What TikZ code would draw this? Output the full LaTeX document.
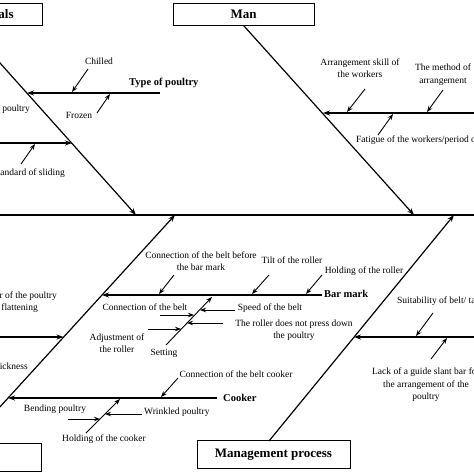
\documentclass[tikz,border=0pt]{standalone}
\usepackage{fontspec}
\setmainfont{Liberation Serif}
\usetikzlibrary{arrows.meta}
\begin{document}
\begin{tikzpicture}[x=1pt,y=-1pt,
  txt/.style={font=\fontsize{9.5}{12.5}\selectfont, inner sep=0pt, align=center},
  btxt/.style={font=\fontsize{10.5}{12}\selectfont\bfseries, inner sep=0pt},
  catbox/.style={draw, line width=0.9pt, inner ysep=0pt, font=\fontsize{13}{15}\selectfont\bfseries},
  spine/.style={line width=1.7pt},
  bone/.style={line width=1.2pt, -{Stealth[length=7pt,width=5pt]}},
  rib/.style={line width=1.1pt, -{Stealth[length=7pt,width=5pt]}},
  tick/.style={line width=0.9pt, -{Stealth[length=6pt,width=4.5pt]}}
]
\useasboundingbox (0,0) rectangle (474,474);

% category boxes
\node[catbox, minimum width=141pt, minimum height=22pt] (man) at (243.5,14) {Man};
\node[catbox, minimum width=153pt, minimum height=27.5pt] (mgmt) at (273.5,454.5) {Management process};
\node[catbox, anchor=north east, minimum height=22pt, text width=60pt, align=right, inner xsep=29pt] (mat) at (43,3) {Materials};
\node[catbox, anchor=north east, minimum height=28pt, text width=60pt, align=right, inner xsep=46pt] (mach) at (42,443) {Machine};

% spine
\coordinate (spL) at (0,215);
\coordinate (spR) at (474,215);
\draw[spine] (spL) -- (spR);

% main bones
\coordinate (matTop) at (-34,25);
\coordinate (matTip) at (136,215);
\coordinate (manTip) at (414,215);
\coordinate (machTop) at (-33,443);
\coordinate (machTip) at (175,215);
\coordinate (mgmtTop) at (269,441);
\coordinate (mgmtTip) at (454,215);
\draw[bone] (matTop) -- (matTip);
\draw[bone] (man.south) -- (manTip);
\draw[bone] (machTop) -- (machTip);
\draw[bone] (mgmtTop) -- (mgmtTip);

% ---------- Materials ----------
\coordinate (tpEnd) at (160,93);
\coordinate (tpTip) at (27,93);
\draw[rib] (tpEnd) -- (tpTip);
\node[btxt, anchor=west] (tp) at (129,83) {Type of poultry};
\node[txt] (chilled) at (99,61) {Chilled};
\coordinate (chA) at (88,69); \coordinate (chB) at (72,92);
\draw[tick] (chA) -- (chB);
\node[txt] (frozen) at (79,115) {Frozen};
\coordinate (frA) at (97,113); \coordinate (frB) at (110,94);
\draw[tick] (frA) -- (frB);

\coordinate (m2End) at (-10,143);
\coordinate (m2Tip) at (72,143);
\draw[rib] (m2End) -- (m2Tip);
\node[txt, anchor=east] (poultry) at (30,109) {poultry};
\node[txt, anchor=east] (sliding) at (65,173) {Standard of sliding};
\coordinate (slA) at (21,164); \coordinate (slB) at (35,144);
\draw[tick] (slA) -- (slB);

% ---------- Man ----------
\coordinate (manRibEnd) at (480,113);
\coordinate (manRibTip) at (323,113);
\draw[rib] (manRibEnd) -- (manRibTip);
\node[txt] (skill) at (360,68) {Arrangement skill of\\the workers};
\coordinate (skA) at (365,89); \coordinate (skB) at (347,112);
\draw[tick] (skA) -- (skB);
\node[txt] (method) at (443,74.5) {The method of\\arrangement};
\coordinate (meA) at (443,90); \coordinate (meB) at (427,112);
\draw[tick] (meA) -- (meB);
\node[txt, anchor=west] (fatigue) at (356,140) {Fatigue of the workers/period of work};
\coordinate (faA) at (378,135); \coordinate (faB) at (393,114);
\draw[tick] (faA) -- (faB);

% ---------- Machine ----------
\coordinate (mc1End) at (-10,337);
\coordinate (mc1Tip) at (63.5,337);
\draw[rib] (mc1End) -- (mc1Tip);
\node[txt, anchor=east] (flat1) at (57,296) {r of the poultry};
\node[txt, anchor=east] (flat2) at (38,308) {flattening};
\node[txt, anchor=east] (thick) at (28,366) {Thickness};

% Bar mark
\coordinate (bmEnd) at (322,295);
\coordinate (bmTip) at (102,295);
\draw[rib] (bmEnd) -- (bmTip);
\node[btxt, anchor=west] (barmark) at (324,294) {Bar mark};
\node[txt] (cbb) at (201,261) {Connection of the belt before\\the bar mark};
\coordinate (cbA) at (174,275); \coordinate (cbB) at (159,294);
\draw[tick] (cbA) -- (cbB);
\node[txt] (tilt) at (292,260) {Tilt of the roller};
\coordinate (tiA) at (269,275); \coordinate (tiB) at (252,294);
\draw[tick] (tiA) -- (tiB);
\node[txt] (holdr) at (364,271) {Holding of the roller};
\coordinate (hrA) at (322,275); \coordinate (hrB) at (306,294);
\draw[tick] (hrA) -- (hrB);

\coordinate (setA) at (166,345);
\coordinate (setTip) at (212,297);
\draw[tick] (setA) -- (setTip);
\node[txt] (setting) at (164,353) {Setting};
\node[txt] (cob) at (145,307) {Connection of the belt};
\coordinate (coA) at (160,315); \coordinate (coB) at (194,315);
\draw[tick] (coA) -- (coB);
\node[txt] (adj) at (117,343) {Adjustment of\\the roller};
\coordinate (adA) at (148,329); \coordinate (adB) at (181,329);
\draw[tick] (adA) -- (adB);
\node[txt] (speed) at (270,308) {Speed of the belt};
\coordinate (spA) at (235,310); \coordinate (spB) at (200,310);
\draw[tick] (spA) -- (spB);
\node[txt] (press) at (294,330) {The roller does not press down\\the poultry};
\coordinate (prA) at (223,323); \coordinate (prB) at (187,323);
\draw[tick] (prA) -- (prB);

% Cooker
\coordinate (ckEnd) at (217,398);
\coordinate (ckTip) at (8,398);
\draw[rib] (ckEnd) -- (ckTip);
\node[btxt, anchor=west] (cooker) at (223,398) {Cooker};
\node[txt] (cbc) at (236,374) {Connection of the belt cooker};
\coordinate (ccA) at (178,378); \coordinate (ccB) at (161,397);
\draw[tick] (ccA) -- (ccB);
\coordinate (hcA) at (86,433);
\coordinate (hcTip) at (120,399);
\draw[tick] (hcA) -- (hcTip);
\node[txt] (bend) at (55,409) {Bending poultry};
\coordinate (beA) at (68,419); \coordinate (beB) at (100,419);
\draw[tick] (beA) -- (beB);
\node[txt, anchor=west] (wrinkled) at (144,412) {Wrinkled poultry};
\coordinate (wrA) at (142,414); \coordinate (wrB) at (105,414);
\draw[tick] (wrA) -- (wrB);
\node[txt] (holdc) at (104,439) {Holding of the cooker};

% ---------- Management process ----------
\coordinate (mgRibEnd) at (480,337);
\coordinate (mgRibTip) at (354,337);
\draw[rib] (mgRibEnd) -- (mgRibTip);
\node[txt, anchor=west] (suit) at (397,301) {Suitability of belt/ table};
\coordinate (suA) at (433,313); \coordinate (suB) at (416,336);
\draw[tick] (suA) -- (suB);
\node[txt] (lack) at (426,385) {Lack of a guide slant bar for\\the arrangement of the\\poultry};
\coordinate (laA) at (431,359); \coordinate (laB) at (447,338);
\draw[tick] (laA) -- (laB);
\end{tikzpicture}
\end{document}
